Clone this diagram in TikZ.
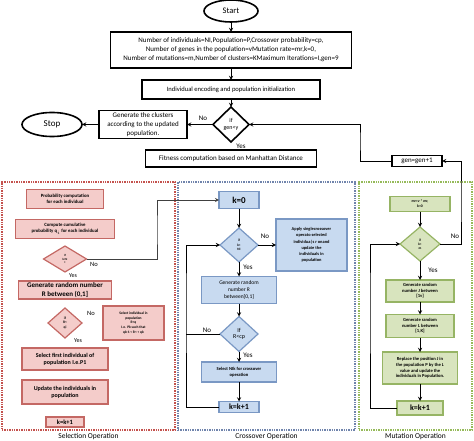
\documentclass[tikz,border=0pt]{standalone}
\usepackage{fontspec}
\setmainfont{Carlito}
\usetikzlibrary{shapes.geometric, arrows, positioning}

\definecolor{selfill}{RGB}{244,204,202}
\definecolor{seldraw}{RGB}{196,104,100}
\definecolor{crossfill}{RGB}{200,218,240}
\definecolor{crossdraw}{RGB}{122,152,196}
\definecolor{mutfill}{RGB}{216,228,190}
\definecolor{mutdraw}{RGB}{150,180,100}
\definecolor{selframe}{RGB}{196,82,78}
\definecolor{crossframe}{RGB}{112,132,172}
\definecolor{mutframe}{RGB}{150,186,90}

\begin{document}
\begin{tikzpicture}[
    x=1pt, y=-1pt,
    node distance=10pt,
    terminal/.style={ellipse, draw, line width=1.6pt, fill=white, inner sep=0pt, outer sep=0pt, font=\fontsize{8.5}{10}\selectfont},
    mainbox/.style={rectangle, draw, line width=1.6pt, fill=white, align=center, inner sep=1pt, outer sep=0pt, font=\fontsize{7}{9}\selectfont},
    decision/.style={diamond, draw, aspect=1, align=center, inner sep=0pt, outer sep=0pt},
    selbox/.style={rectangle, draw=seldraw, fill=selfill, line width=1.2pt, align=center, inner sep=1pt, outer sep=0pt, font=\fontsize{4.8}{5.8}\selectfont\bfseries},
    crossbox/.style={rectangle, draw=crossdraw, fill=crossfill, line width=1.2pt, align=center, inner sep=1pt, outer sep=0pt, font=\fontsize{5.5}{6.6}\selectfont},
    mutbox/.style={rectangle, draw=mutdraw, fill=mutfill, line width=1.2pt, align=center, inner sep=1pt, outer sep=0pt, font=\fontsize{4.6}{5.6}\selectfont\bfseries},
    frame/.style={rectangle, densely dotted, line width=1.4pt, inner sep=0pt},
    answer/.style={font=\fontsize{7}{8}\selectfont, inner sep=0pt},
    caption/.style={font=\fontsize{7.5}{9}\selectfont, inner sep=0pt},
    flow/.style={->, >=stealth, line width=0.9pt}
]
\useasboundingbox (0,0) rectangle (474,441);

% Operation frames
\node[frame, draw=selframe, minimum width=173, minimum height=248] (selpart) at (88.5,306) {};
\node[frame, draw=crossframe, minimum width=177, minimum height=248] (crosspart) at (266.5,306) {};
\node[frame, draw=mutframe, minimum width=113, minimum height=248] (mutpart) at (415.5,306) {};
\node[caption, below=2pt of selpart] {Selection Operation};
\node[caption, below=2pt of crosspart] {Crossover Operation};
\node[caption, below=2pt of mutpart] {Mutation Operation};

% Main loop
\node[terminal, minimum width=54, minimum height=22] (start) at (231,11) {Start};
\node[mainbox, below=10pt of start, minimum width=241, minimum height=36] (init) {Number of individuals=NI,Population=P,Crossover probability=cp,\\Number of genes in the population=vMutation rate=mr,k=0,\\Number of mutations=m,Number of clusters=KMaximum Iterations=I,gen=9};
\node[mainbox, below=12pt of init, minimum width=178, minimum height=19, font=\fontsize{6.6}{8}\selectfont] (encode) {Individual encoding and population initialization};
\node[decision, below=8pt of encode, minimum width=36, minimum height=35, line width=1.6pt, font=\fontsize{6}{6.5}\selectfont] (genif) {if\\gen<y};
\node[mainbox, left=26pt of genif, minimum width=88, minimum height=28] (clusters) {Generate the clusters\\according to the updated\\population.};
\node[terminal, left=17pt of clusters, minimum width=60, minimum height=24, font=\fontsize{9}{10}\selectfont] (stop) {Stop};
\node[mainbox, below=8pt of genif, minimum width=171, minimum height=17] (fitness) {Fitness computation based on Manhattan Distance};
\node[mainbox, minimum width=50, minimum height=11, inner sep=0pt] (gen) at (417,161) {gen=gen+1};

\draw[flow] (start) -- (init);
\draw[flow] (init) -- (encode);
\draw[flow] (encode) -- (genif);
\draw[flow] (genif) -- (clusters);
\draw[flow] (clusters) -- (stop);
\coordinate (backrail) at (360,140);
\draw[flow] (gen.west) -| (backrail) |- (genif.east);
\node[answer] at (203,118) {No};
\node[answer] at (241,146) {Yes};

% Selection
\node[selbox, minimum width=77, minimum height=19] (prob) at (65,199) {Probability computation\\for each individual};
\node[selbox, below=11pt of prob, minimum width=99, minimum height=19] (cumul) {Compute cumulative\\probability q$_i$ for each individual};
\node[decision, draw=seldraw, fill=selfill, line width=1.2pt, below=7.5pt of cumul, minimum width=43, minimum height=26, font=\fontsize{3}{3.4}\selectfont\bfseries] (selif) {if\\k<N\\I};
\node[selbox, below=9pt of selif, minimum width=93, minimum height=18, font=\fontsize{7}{8.4}\selectfont\bfseries] (randR) {Generate random number\\R between (0,1]};
\node[decision, draw=seldraw, fill=selfill, line width=1.2pt, below=9pt of randR, minimum width=34, minimum height=30, font=\fontsize{3.6}{4.4}\selectfont\bfseries] (qif) {if\\R<\\qi};
\node[selbox, right=21pt of qif, minimum width=61, minimum height=34, font=\fontsize{3.6}{4.6}\selectfont\bfseries] (pick) {Select individual in\\population\\R<q\\I.e. Pk such that\\qk-1 < R< < qk};
\node[selbox, below=10pt of qif, minimum width=86, minimum height=22, font=\fontsize{6}{7.2}\selectfont\bfseries] (first) {Select first individual of\\population I.e.P1};
\node[selbox, below=10pt of first, minimum width=86, minimum height=24, font=\fontsize{6}{7.2}\selectfont\bfseries] (update) {Update the individuals in\\population};
\node[selbox, below=13pt of update, minimum width=38, minimum height=10, inner sep=0pt, font=\fontsize{6.5}{7}\selectfont\bfseries] (selinc) {k=k+1};

\node[answer, font=\fontsize{6.5}{8}\selectfont] at (94,264) {No};
\node[answer, font=\fontsize{6}{7}\selectfont] at (73,276) {Yes};
\node[answer, font=\fontsize{6.5}{8}\selectfont] at (91,313) {No};
\node[answer, font=\fontsize{6}{7}\selectfont] at (78,341) {Yes};

% Crossover
\node[crossbox, minimum width=40, minimum height=17, font=\fontsize{9}{10}\selectfont\bfseries] (k0) at (239,200) {k=0};
\node[decision, draw=crossdraw, fill=crossfill, line width=1.2pt, below=19.5pt of k0, minimum width=38, minimum height=34, font=\fontsize{3.4}{4.2}\selectfont\bfseries] (crossif) {if\\k<\\NI};
\node[crossbox, right=18pt of crossif, minimum width=71, minimum height=52, font=\fontsize{4.4}{6.2}\selectfont\bfseries] (apply) {Apply singlecrossover\\operato selected\\individua|s r onand\\update the\\individuals in\\population};
\node[crossbox, below=14.5pt of crossif, minimum width=75, minimum height=27] (randcross) {Generate random\\number R\\between[0,1]};
\node[decision, draw=crossdraw, fill=crossfill, line width=1.2pt, below=13pt of randcross, minimum width=38, minimum height=35, font=\fontsize{6}{6.6}\selectfont] (cpif) {If\\R<cp};
\node[crossbox, below=10.5pt of cpif, minimum width=75, minimum height=20, font=\fontsize{4.6}{6}\selectfont\bfseries] (choose) {Select NIk for crossover\\operation};
\node[crossbox, below=19.5pt of choose, minimum width=40, minimum height=11, inner sep=0pt, font=\fontsize{8}{9}\selectfont\bfseries] (crossinc) {k=k+1};

\coordinate (selrail) at (157,230);
\draw[flow, line width=0.8pt, draw=black!75] (selif.east) -| (selrail) |- (k0.west);
\draw[flow] (k0) -- (crossif);
\draw[flow] (crossif) -- (apply);
\draw[flow] (crossif) -- (randcross);
\draw[flow] (randcross) -- (cpif);
\draw[flow] (cpif) -- (choose);
\draw[flow] (choose) -- (crossinc);
\coordinate (crossrail) at (186,300);
\draw[flow] (crossinc.west) -| (crossrail) |- (crossif.west);
\draw[line width=0.9pt] (cpif.west) -- (cpif.west -| crossrail);
\node[answer] at (265,236) {No};
\node[answer] at (248,267) {Yes};
\node[answer] at (207,330) {No};
\node[answer] at (248,355) {Yes};

% Mutation
\node[mutbox, minimum width=60, minimum height=15, font=\fontsize{3.8}{4.8}\selectfont\bfseries] (rate) at (420,204) {mr=v * mr,\\k=0};
\node[decision, draw=mutdraw, fill=mutfill, line width=1.2pt, below=15.5pt of rate, minimum width=40, minimum height=34, font=\fontsize{3.4}{4}\selectfont\bfseries] (mutif) {if\\k<\\m};
\node[mutbox, below=19pt of mutif, minimum width=68, minimum height=22] (randJ) {Generate random\\number J between\\{[1v]}};
\node[mutbox, below=12.5pt of randJ, minimum width=68, minimum height=23] (randL) {Generate random\\number L between\\{[1,K]}};
\node[mutbox, below=14.5pt of randL, minimum width=75, minimum height=32] (replace) {Replace the position J in\\the population P by the L\\value and update the\\individuals in Population.};
\node[mutbox, below=17pt of replace, minimum width=46, minimum height=14, inner sep=0pt, font=\fontsize{8}{9}\selectfont\bfseries] (mutinc) {k=k+1};

\draw[flow] (rate) -- (mutif);
\draw[flow] (mutif) -- (randJ);
\draw[flow] (randJ) -- (randL);
\draw[flow] (randL) -- (replace);
\draw[flow] (replace) -- (mutinc);
\coordinate (mutrail) at (370,300);
\draw[flow] (mutinc.west) -| (mutrail) |- (mutif.west);
\coordinate (genrail) at (461,200);
\draw[flow] (mutif.east) -| (genrail) |- (gen.east);
\node[answer] at (455,236) {No};
\node[answer] at (433,270) {Yes};

\end{tikzpicture}
\end{document}
